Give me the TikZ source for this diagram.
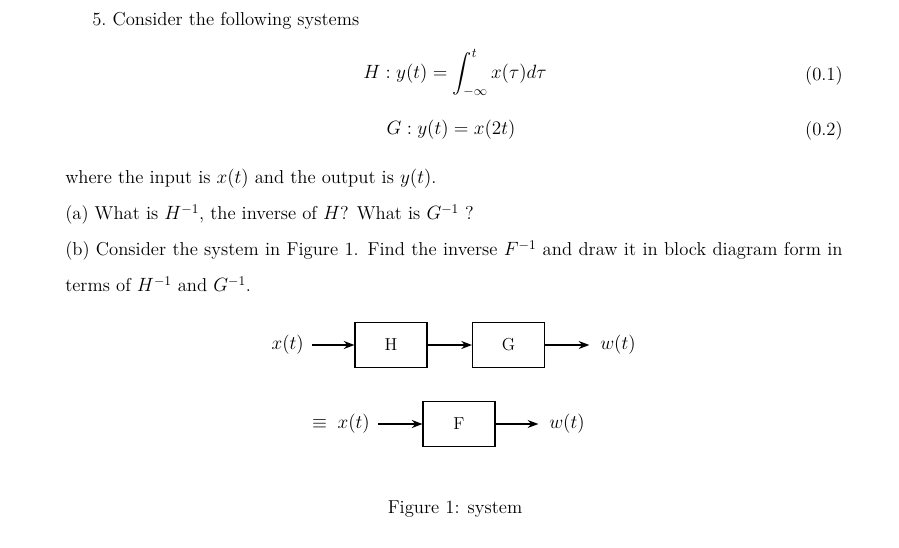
\documentclass[tikz,border=0pt]{standalone}
\usepackage{amsmath}
\usetikzlibrary{arrows.meta}
\begin{document}
\begin{tikzpicture}[x=0.75pt,y=-0.75pt,
  txt/.style={anchor=base west,inner sep=0,font=\fontsize{14}{17}\selectfont},
  blk/.style={draw,line width=0.8pt,minimum width=54pt,minimum height=34pt,inner sep=0,font=\fontsize{13}{15}\selectfont},
  sig/.style={inner sep=0,font=\fontsize{14}{17}\selectfont},
  arr/.style={-{Stealth[length=8pt,width=6pt]},line width=1.1pt}]
\useasboundingbox (0,0) rectangle (899,548);
\node[txt] (t5) at (92,26) {5.\ Consider the following systems};
\node[inner sep=0,font=\fontsize{14}{17}\selectfont] (e1) at (455,73) {$H : y(t) = \displaystyle\int_{-\infty}^{t} x(\tau)d\tau$};
\node[txt,anchor=base east] (n1) at (843,81) {(0.1)};
\node[inner sep=0,font=\fontsize{14}{17}\selectfont] (e2) at (451,130) {$G : y(t) = x(2t)$};
\node[txt,anchor=base east] (n2) at (843,136) {(0.2)};
\node[txt] (w) at (65,184) {where the input is $x(t)$ and the output is $y(t)$.};
\node[txt] (a) at (65,220) {(a) What is $H^{-1}$, the inverse of $H$? What is $G^{-1}$ ?};
\node[txt] (b) at (65,256) {\makebox[583pt][s]{(b) Consider the system in Figure 1. Find the inverse $F^{-1}$ and draw it in block diagram form in}};
\node[txt] (b2) at (65,292) {terms of $H^{-1}$ and $G^{-1}$.};
% diagram
\node[sig,anchor=east] (x1) at (304,345) {$x(t)$};
\node[blk] (H) at (391,345) {H};
\node[blk] (G) at (508.5,345) {G};
\node[sig,anchor=west] (w1) at (600,345) {$w(t)$};
\draw[arr] ([xshift=6]x1.east) -- (H.west);
\draw[arr] (H) -- (G);
\draw[arr] (G.east) -- ([xshift=-8]w1.west);
\node[sig,anchor=east] (x2) at (370,424) {$\equiv\; x(t)$};
\node[blk] (F) at (459,424) {F};
\node[sig,anchor=west] (w2) at (549,424) {$w(t)$};
\draw[arr] ([xshift=6]x2.east) -- (F.west);
\draw[arr] (F.east) -- ([xshift=-8]w2.west);
\node[txt,anchor=base] (cap) at (455,513) {Figure 1: system};
\end{tikzpicture}
\end{document}
